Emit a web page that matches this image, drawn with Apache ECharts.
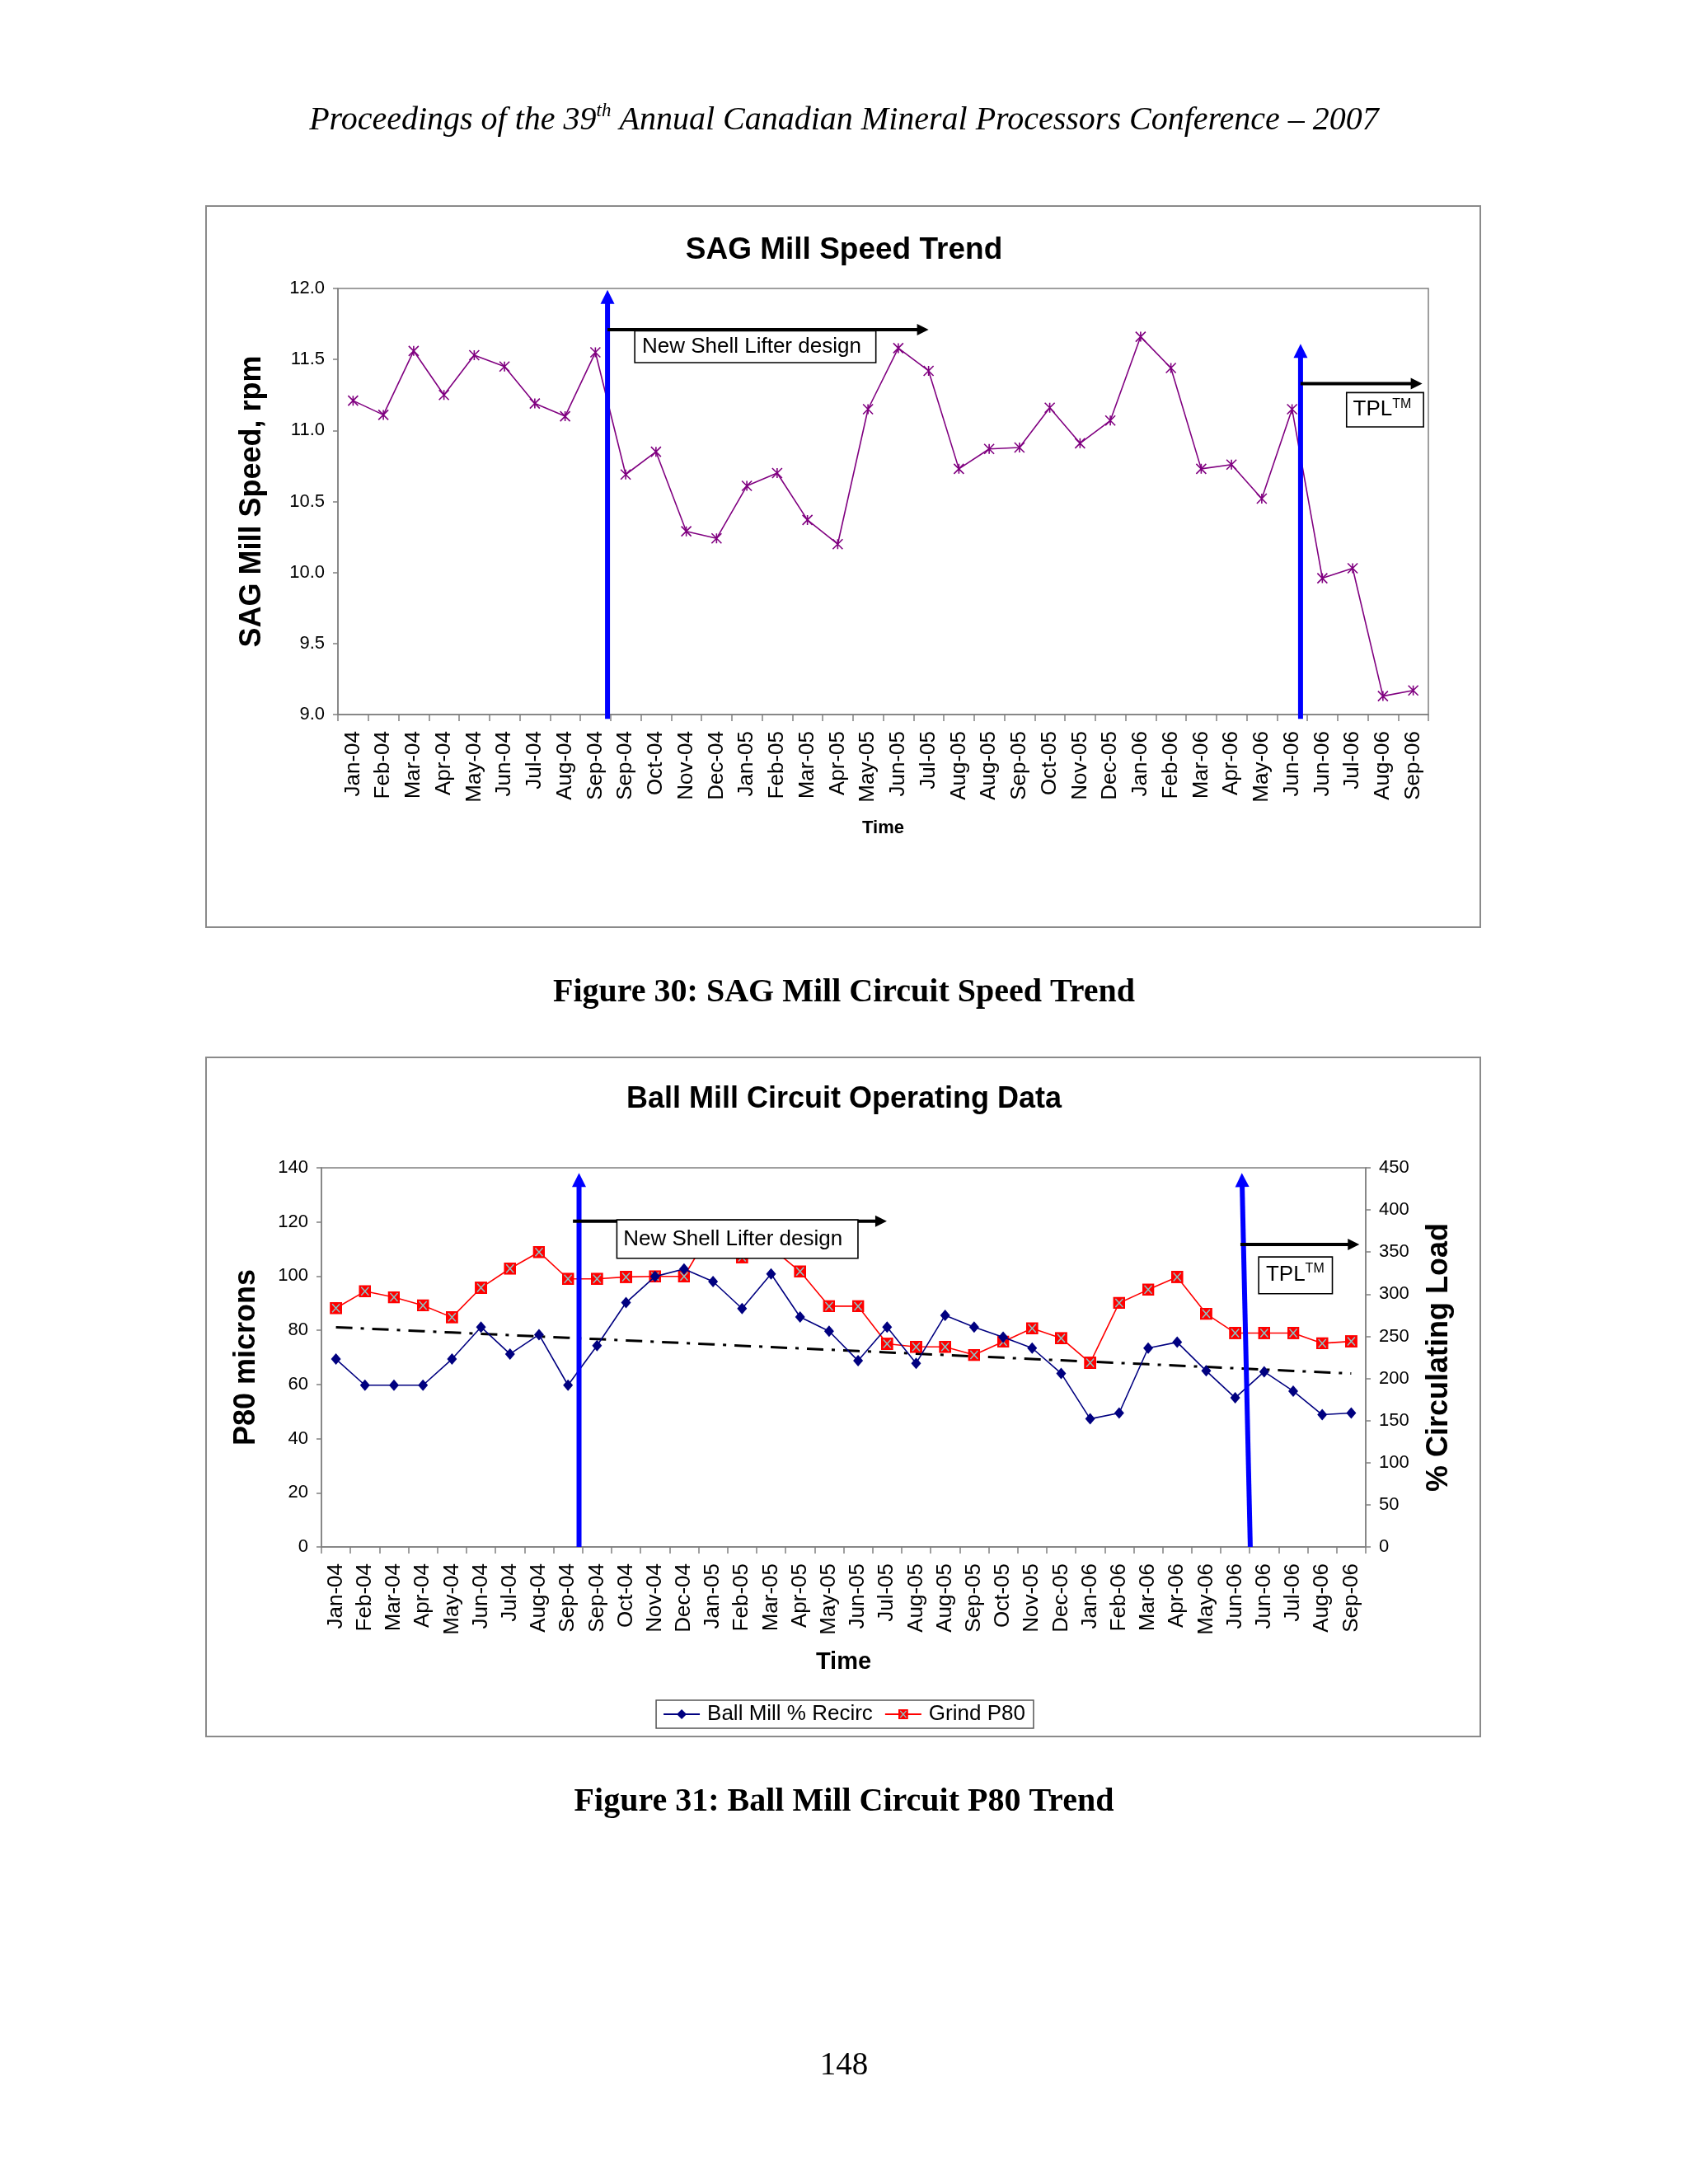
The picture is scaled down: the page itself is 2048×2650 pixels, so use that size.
<!DOCTYPE html>
<html>
<head>
<meta charset="utf-8">
<script src="https://cdn.jsdelivr.net/npm/echarts@6/dist/echarts.min.js"></script>
<style>
html,body{margin:0;padding:0;background:#ffffff;}
#main{width:2048px;height:2650px;}
</style>
</head>
<body>
<div id="main"></div>
<script>
// ---------------- data ----------------
const months = ['Jan-04','Feb-04','Mar-04','Apr-04','May-04','Jun-04','Jul-04','Aug-04','Sep-04','Sep-04','Oct-04','Nov-04','Dec-04',
  'Jan-05','Feb-05','Mar-05','Apr-05','May-05','Jun-05','Jul-05','Aug-05','Aug-05','Sep-05','Oct-05','Nov-05','Dec-05',
  'Jan-06','Feb-06','Mar-06','Apr-06','May-06','Jun-06','Jun-06','Jul-06','Aug-06','Sep-06'];

// SAG mill speed, rpm
const sagSpeed = [11.21,11.11,11.56,11.25,11.53,11.45,11.19,11.10,11.55,10.69,10.85,10.29,10.24,
  10.61,10.70,10.37,10.20,11.15,11.58,11.42,10.73,10.87,10.88,11.16,10.91,11.07,
  11.66,11.44,10.73,10.76,10.52,11.15,9.96,10.03,9.13,9.17];

// Ball mill % recirculating load (right axis)
const recirc = [223,192,192,192,223,261,229,252,192,239,290,321,330,
  315,283,324,273,256,221,261,218,275,261,249,236,206,
  152,159,236,243,209,177,208,185,157,159];

// Grind P80, microns (left axis)
const grindP80 = [88.2,94.4,92.2,89.2,84.8,95.7,102.8,108.9,99.0,99.0,99.7,99.9,99.9,
  118,107,110.5,101.7,88.9,88.9,75.0,73.9,73.9,70.9,75.8,80.7,77.1,
  68.0,90.1,95.0,99.7,86.1,79.0,79.0,79.0,75.2,75.9];

// axis ranges
const speedAxis = {min: 9, max: 12, step: 0.5};
const p80Axis = {min: 0, max: 140, step: 20};
const loadAxis = {min: 0, max: 450, step: 50};

// annotation anchors (category index, axis value)
const sagShellArrow = {x0: 8.40, y0: 8.97, x1: 8.40, y1: 11.99};
const sagTplArrow = {x0: 31.28, y0: 8.97, x1: 31.28, y1: 11.61};
const sagShellPointer = {x0: 8.40, y0: 11.71, x1: 19.0, y1: 11.71};
const sagTplPointer = {x0: 31.28, y0: 11.33, x1: 35.3, y1: 11.33};
const sagShellNote = {x: 13.28, y: 11.59};
const sagTplNote = {x: 34.07, y: 11.146};

const ballShellArrow = {x0: 8.38, y0: 0, x1: 8.38, y1: 138.1};
const ballTplArrow = {x0: 31.52, y0: 0, x1: 31.23, y1: 138.1};
const ballShellPointer = {x0: 8.17, y0: 120.3, x1: 18.99, y1: 120.3};
const ballTplPointer = {x0: 31.18, y0: 111.7, x1: 35.28, y1: 111.7};
const ballShellNote = {x: 13.84, y: 113.7};
const ballTplNote = {x: 33.08, y: 100.3};

// ---------------- helpers ----------------
const SANS = 'Liberation Sans';
const SERIF = 'Liberation Serif';
const GRID0 = {left: 410, top: 350, width: 1323, height: 517};
const GRID1 = {left: 390, top: 1417, width: 1267, height: 460};
const n = months.length;

function linearTrend(arr) {
  let sx = 0, sy = 0, sxx = 0, sxy = 0;
  arr.forEach((y, i) => { sx += i; sy += y; sxx += i * i; sxy += i * y; });
  const m = arr.length;
  const slope = (m * sxy - sx * sy) / (m * sxx - sx * sx);
  const icpt = (sy - slope * sx) / m;
  return arr.map((_, i) => +(icpt + slope * i).toFixed(2));
}
const recircTrend = linearTrend(recirc);

function arrowSeries(xi, yi, a, pxX, pxY, color, width, head) {
  const dx = (a.x1 - a.x0) * pxX, dy = (a.y1 - a.y0) * pxY;
  const len = Math.hypot(dx, dy);
  const back = head[1] / 2 / len;
  const cx = a.x1 - (a.x1 - a.x0) * back;
  const cy = a.y1 - (a.y1 - a.y0) * back;
  const ang = Math.atan2(dy, dx) * 180 / Math.PI;
  return {
    type: 'line', xAxisIndex: xi, yAxisIndex: yi, silent: true, clip: false, z: 5,
    symbol: 'triangle', symbolSize: head, symbolRotate: ang - 90,
    lineStyle: {color: color, width: width},
    itemStyle: {color: color, borderWidth: 0},
    data: [{value: [a.x0, a.y0], symbol: 'none'}, {value: [cx, cy]}]
  };
}

function noteSeries(xi, yi, pos, text, rich, padding) {
  return {
    type: 'custom', xAxisIndex: xi, yAxisIndex: yi, silent: true, z: 8,
    data: [[pos.x, pos.y]],
    renderItem: function (params, api) {
      const p = api.coord([api.value(0), api.value(1)]);
      return {
        type: 'text', x: p[0], y: p[1], z2: 20,
        style: {
          text: text, rich: rich || {}, x: 0, y: 0,
          align: 'center', verticalAlign: 'middle',
          fill: '#000', fontFamily: SANS, fontSize: 26, lineHeight: 30,
          backgroundColor: '#ffffff', borderColor: '#000000', borderWidth: 1.6,
          padding: padding
        }
      };
    }
  };
}

const tplRich = {
  m: {fontFamily: SANS, fontSize: 26, lineHeight: 30, color: '#000'},
  t: {fontFamily: SANS, fontSize: 16, lineHeight: 13, verticalAlign: 'top', color: '#000'}
};

const starPath = 'path://M0 0L10 10M10 0L0 10M5 0L5 10';
const redMarkSvg = "<svg xmlns='http://www.w3.org/2000/svg' width='30' height='30' viewBox='0 0 30 30'>" +
  "<rect x='0' y='0' width='30' height='30' fill='#ff0000'/>" +
  "<path d='M6 5L24 25M24 5L6 25' stroke='#8cc6c6' stroke-width='3' fill='none'/></svg>";
const redMark = 'image://data:image/svg+xml;charset=utf-8,' + encodeURIComponent(redMarkSvg);

const axisGrey = '#808080';
function catAxis(gi, nameSize, nameGap) {
  return {
    type: 'category', gridIndex: gi, data: months, boundaryGap: true,
    axisLine: {show: true, onZero: false, lineStyle: {color: axisGrey, width: 1.5}},
    axisTick: {show: true, interval: 0, length: 8, lineStyle: {color: axisGrey, width: 1.5}},
    axisLabel: {interval: 0, rotate: 90, fontFamily: SANS, fontSize: 26, color: '#000', margin: 20},
    splitLine: {show: false},
    name: 'Time', nameLocation: 'middle', nameGap: nameGap,
    nameTextStyle: {fontFamily: SANS, fontSize: nameSize, fontWeight: 'bold', color: '#000'}
  };
}
function valAxis(gi, rng, pos, name, gap, fmt) {
  return {
    type: 'value', gridIndex: gi, position: pos, min: rng.min, max: rng.max, interval: rng.step,
    axisLine: {show: true, onZero: false, lineStyle: {color: axisGrey, width: 1.5}},
    axisTick: {show: true, length: 6, lineStyle: {color: axisGrey, width: 1.5}},
    axisLabel: {fontFamily: SANS, fontSize: 22, color: '#000', margin: 16, formatter: fmt},
    splitLine: {show: false},
    name: name, nameLocation: 'middle', nameRotate: 90, nameGap: gap,
    nameTextStyle: {fontFamily: SANS, fontSize: 36, fontWeight: 'bold', color: '#000'}
  };
}
function hiddenX(gi) {
  return {type: 'value', gridIndex: gi, min: -0.5, max: n - 0.5, show: false,
    axisLine: {show: false, onZero: false}, splitLine: {show: false}};
}

const px0X = GRID0.width / n, px0Y = GRID0.height / (speedAxis.max - speedAxis.min);
const px1X = GRID1.width / n, px1Y = GRID1.height / (p80Axis.max - p80Axis.min);

const option = {
  animation: false,
  backgroundColor: '#ffffff',
  textStyle: {fontFamily: SANS},
  title: [
    {
      text: '{a|Proceedings of the 39}{s|th}{a| Annual Canadian Mineral Processors Conference – 2007}',
      left: 'center', top: 123, padding: 0,
      textStyle: {
        fontWeight: 'normal', fontStyle: 'italic',
        rich: {
          a: {fontFamily: SERIF, fontStyle: 'italic', fontWeight: 'normal', fontSize: 40, lineHeight: 46, color: '#000'},
          s: {fontFamily: SERIF, fontStyle: 'italic', fontWeight: 'normal', fontSize: 23, lineHeight: 22, verticalAlign: 'top', color: '#000'}
        }
      }
    },
    {text: 'SAG Mill Speed Trend', left: 'center', top: 285, padding: 0,
      textStyle: {fontFamily: SANS, fontWeight: 'bold', fontSize: 37, color: '#000'}},
    {text: 'Figure 30: SAG Mill Circuit Speed Trend', left: 'center', top: 1185, padding: 0,
      textStyle: {fontFamily: SERIF, fontWeight: 'bold', fontSize: 40, color: '#000'}},
    {text: 'Ball Mill Circuit Operating Data', left: 'center', top: 1316, padding: 0,
      textStyle: {fontFamily: SANS, fontWeight: 'bold', fontSize: 36, color: '#000'}},
    {text: 'Figure 31: Ball Mill Circuit P80 Trend', left: 'center', top: 2167, padding: 0,
      textStyle: {fontFamily: SERIF, fontWeight: 'bold', fontSize: 40, color: '#000'}},
    {text: '148', left: 'center', top: 2487, padding: 0,
      textStyle: {fontFamily: SERIF, fontWeight: 'normal', fontSize: 39, color: '#000'}}
  ],
  graphic: [
    {type: 'rect', z: -10, shape: {x: 250, y: 250, width: 1546, height: 875},
      style: {fill: '#ffffff', stroke: '#8a8a8a', lineWidth: 2}},
    {type: 'rect', z: -10, shape: {x: 250, y: 1283, width: 1546, height: 824},
      style: {fill: '#ffffff', stroke: '#8a8a8a', lineWidth: 2}}
  ],
  legend: {
    data: ['Ball Mill % Recirc', 'Grind P80'],
    left: 'center', top: 2063, orient: 'horizontal',
    itemWidth: 44, itemHeight: 15, itemGap: 14,
    padding: [4, 10, 4, 8],
    borderColor: '#555', borderWidth: 1.5, backgroundColor: '#fff',
    textStyle: {fontFamily: SANS, fontSize: 26, color: '#000', padding: [0, 0, 0, 4]}
  },
  grid: [
    Object.assign({show: true, borderColor: axisGrey, borderWidth: 1.5, backgroundColor: 'transparent'}, GRID0),
    Object.assign({show: true, borderColor: axisGrey, borderWidth: 1.5, backgroundColor: 'transparent'}, GRID1)
  ],
  xAxis: [
    catAxis(0, 22, 127),
    hiddenX(0),
    catAxis(1, 29, 125),
    hiddenX(1)
  ],
  yAxis: [
    valAxis(0, speedAxis, 'left', 'SAG Mill Speed, rpm', 86, v => v.toFixed(1)),
    valAxis(1, p80Axis, 'left', 'P80 microns', 73),
    valAxis(1, loadAxis, 'right', '% Circulating Load', 71)
  ],
  series: [
    {
      name: 'SAG Mill Speed', type: 'line', xAxisIndex: 0, yAxisIndex: 0, data: sagSpeed, z: 3,
      symbol: starPath, symbolSize: 12,
      lineStyle: {color: '#800080', width: 1.6},
      itemStyle: {color: '#800080', borderColor: '#800080', borderWidth: 1.6}
    },
    arrowSeries(1, 0, sagShellArrow, px0X, px0Y, '#0000ff', 6, [17, 17]),
    arrowSeries(1, 0, sagTplArrow, px0X, px0Y, '#0000ff', 6, [17, 17]),
    arrowSeries(1, 0, sagShellPointer, px0X, px0Y, '#000000', 4, [14, 14]),
    arrowSeries(1, 0, sagTplPointer, px0X, px0Y, '#000000', 4, [14, 14]),
    noteSeries(1, 0, sagShellNote, 'New Shell Lifter design', null, [4, 17, 3, 8]),
    noteSeries(1, 0, sagTplNote, '{m|TPL}{t|TM}', tplRich, [5, 14, 5, 7]),

    {
      name: 'Linear trend', type: 'line', xAxisIndex: 2, yAxisIndex: 2, data: recircTrend, z: 2,
      symbol: 'none', lineStyle: {color: '#000000', width: 3, type: [20, 10, 4, 10]}
    },
    {
      name: 'Grind P80', type: 'line', xAxisIndex: 2, yAxisIndex: 1, data: grindP80, z: 3,
      symbol: redMark, symbolSize: 15,
      lineStyle: {color: '#ff0000', width: 1.6},
      itemStyle: {color: '#ff0000'}
    },
    {
      name: 'Ball Mill % Recirc', type: 'line', xAxisIndex: 2, yAxisIndex: 2, data: recirc, z: 4,
      symbol: 'diamond', symbolSize: [12, 14],
      lineStyle: {color: '#000080', width: 1.6},
      itemStyle: {color: '#000080', borderWidth: 0}
    },
    arrowSeries(3, 1, ballShellArrow, px1X, px1Y, '#0000ff', 6, [17, 17]),
    arrowSeries(3, 1, ballTplArrow, px1X, px1Y, '#0000ff', 6, [17, 17]),
    arrowSeries(3, 1, ballShellPointer, px1X, px1Y, '#000000', 4, [14, 14]),
    arrowSeries(3, 1, ballTplPointer, px1X, px1Y, '#000000', 4, [14, 14]),
    noteSeries(3, 1, ballShellNote, 'New Shell Lifter design', null, [8, 18, 7, 7]),
    noteSeries(3, 1, ballTplNote, '{m|TPL}{t|TM}', tplRich, [6, 9, 7, 8])
  ]
};

const chart = echarts.init(document.getElementById('main'), null, {renderer: 'canvas'});
chart.setOption(option);
</script>
</body>
</html>
